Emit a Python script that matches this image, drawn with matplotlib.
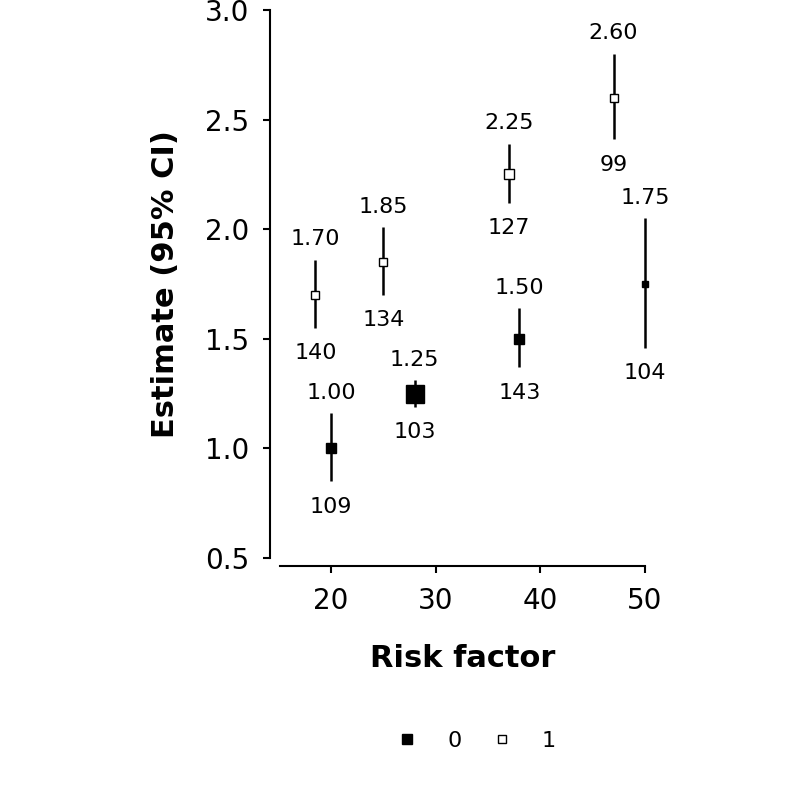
import matplotlib
matplotlib.use("Agg")
import matplotlib.pyplot as plt
from matplotlib.lines import Line2D
import numpy as np

# group 0 (filled squares)
x0 = [20, 28, 38, 50]
est0 = [1.00, 1.25, 1.50, 1.75]
lo0 = [0.85, 1.19, 1.37, 1.46]
hi0 = [1.16, 1.31, 1.64, 2.05]
n0 = [109, 103, 143, 104]

# group 1 (open squares)
x1 = [18.5, 25, 37, 47]
est1 = [1.70, 1.85, 2.25, 2.60]
lo1 = [1.55, 1.70, 2.12, 2.41]
hi1 = [1.86, 2.01, 2.39, 2.80]
n1 = [140, 134, 127, 99]

fig = plt.figure(figsize=(8, 8), dpi=100)
ax = fig.add_axes([0.35, 0.3025, 0.45625, 0.685])


def draw(x, est, lo, hi, n, face):
    for xi, e, l, h, ni in zip(x, est, lo, hi, n):
        ax.plot([xi, xi], [l, h], color="black", lw=1.8, solid_capstyle="butt",
                zorder=2, clip_on=False)
        side = 4.67 * (h - l) ** -0.65 * 0.72     # bigger square for narrower CI
        if face == "white":
            side *= 0.85
        ax.plot(xi, e, marker="s", ms=side, mfc=face, mec="black", mew=1.0,
                ls="none", zorder=3, clip_on=False)
        ax.annotate(f"{e:.2f}", (xi, h), xytext=(0, 7.5), textcoords="offset points",
                    ha="center", va="bottom", fontsize=16)
        ax.annotate(str(ni), (xi, l), xytext=(0, -11), textcoords="offset points",
                    ha="center", va="top", fontsize=16)


draw(x0, est0, lo0, hi0, n0, "black")
draw(x1, est1, lo1, hi1, n1, "white")

ax.set_xlim(15.12, 50)
ax.set_ylim(0.5, 3.0)
ax.set_xticks([20, 30, 40, 50])
ax.set_yticks([0.5, 1.0, 1.5, 2.0, 2.5, 3.0])
ax.set_yticklabels(["0.5", "1.0", "1.5", "2.0", "2.5", "3.0"])
ax.tick_params(labelsize=20, width=1.5, length=5, pad=10)
for s in ["top", "right"]:
    ax.spines[s].set_visible(False)
ax.spines["left"].set_position(("outward", 7.2))
ax.spines["bottom"].set_position(("outward", 6))
ax.spines["left"].set_linewidth(1.5)
ax.spines["bottom"].set_linewidth(1.5)

ax.set_xlabel("Risk factor", fontsize=22, fontweight="bold", labelpad=21)
ax.set_ylabel("Estimate (95% CI)", fontsize=22, fontweight="bold", labelpad=18)

handles = [
    Line2D([], [], marker="s", ls="none", mfc="black", mec="black", mew=1.0, ms=6.5),
    Line2D([], [], marker="s", ls="none", mfc="white", mec="black", mew=1.0, ms=6),
]
fig.legend(handles, ["0", "1"], loc="center", bbox_to_anchor=(476 / 800, 1 - 741 / 800),
           ncol=2, frameon=False, fontsize=16, handletextpad=1.3, columnspacing=1.3,
           handlelength=1.0)

fig.savefig("out.png", dpi=100)
